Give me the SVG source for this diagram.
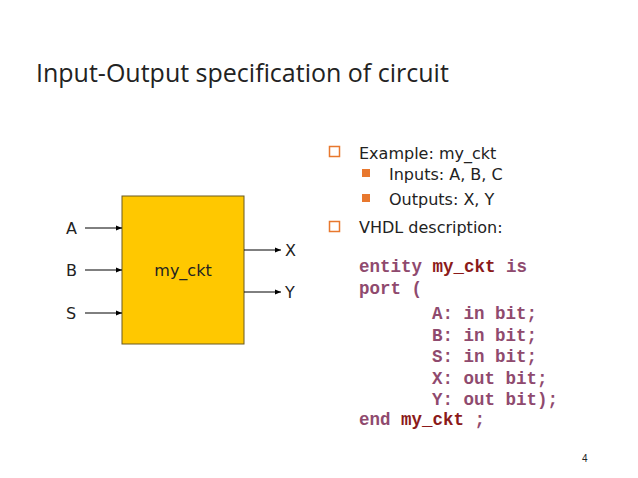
<svg xmlns="http://www.w3.org/2000/svg" width="638" height="478" viewBox="0 0 638 478">
<style>
.t{font-family:"DejaVu Sans",Verdana,sans-serif;font-size:16px;fill:#222}
.c{font-family:"Liberation Mono","Courier New",monospace;font-size:17.5px;font-weight:bold;fill:#8f4a6e}
.r{fill:#8b1a1a}
.w{stroke:#000;stroke-width:1;fill:none;marker-end:url(#ah)}
</style>
<defs><marker id="ah" markerWidth="6" markerHeight="6" refX="6" refY="3" orient="auto" markerUnits="userSpaceOnUse"><path d="M0,0.5 L6,3 L0,5.5z" fill="#000"/></marker></defs>
<rect width="638" height="478" fill="#fff"/>
<text x="36" y="82" font-family="Open Sans,Liberation Sans,sans-serif" font-size="25" fill="#222">Input-Output specification of circuit</text>
<g id="circuit">
<rect x="122" y="196" width="122" height="148" fill="#ffc800" stroke="#6b5a20" stroke-width="1"/>
<text class="t" x="183" y="276" text-anchor="middle">my_ckt</text>
</g>
<g id="connectors">
<path class="w" d="M85,228H122"/><path class="w" d="M85,270H122"/><path class="w" d="M85,313H122"/>
<path class="w" d="M244,250H281"/><path class="w" d="M244,292H281"/>
</g>
<g id="labels">
<text class="t" x="66" y="234">A</text><text class="t" x="66" y="276">B</text><text class="t" x="66" y="319">S</text>
<text class="t" x="285" y="256">X</text><text class="t" x="285" y="298">Y</text>
</g>
<g id="bullets">
<rect x="329.5" y="146.5" width="10" height="10" fill="none" stroke="#e8782e" stroke-width="1.5"/>
<text class="t" x="359" y="159">Example: my_ckt</text>
<rect x="362" y="169" width="8" height="8" fill="#e8782e"/>
<text class="t" x="389" y="180">Inputs: A, B, C</text>
<rect x="362" y="194" width="8" height="8" fill="#e8782e"/>
<text class="t" x="389" y="205">Outputs: X, Y</text>
<rect x="329.5" y="221.5" width="10" height="10" fill="none" stroke="#e8782e" stroke-width="1.5"/>
<text class="t" x="359" y="233">VHDL description:</text>
</g>
<g id="code">
<text class="c" x="359" y="272">entity <tspan class="r">my_ckt</tspan> is</text>
<text class="c" x="359" y="294">port (</text>
<text class="c" x="432" y="319">A: in bit;</text>
<text class="c" x="432" y="341">B: in bit;</text>
<text class="c" x="432" y="362">S: in bit;</text>
<text class="c" x="432" y="384">X: out bit;</text>
<text class="c" x="432" y="405">Y: out bit);</text>
<text class="c" x="359" y="425">end <tspan class="r">my_ckt</tspan> ;</text>
</g>
<text x="582" y="462" font-family="Liberation Sans,sans-serif" font-size="10" fill="#222">4</text>
</svg>
